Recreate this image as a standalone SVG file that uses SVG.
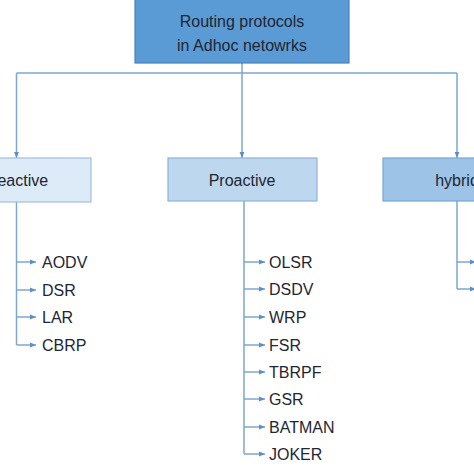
<svg xmlns="http://www.w3.org/2000/svg" width="474" height="474" viewBox="0 0 474 474">
<defs>
<marker id="ah" viewBox="0 0 10 10" refX="10" refY="5" markerWidth="5" markerHeight="5" markerUnits="userSpaceOnUse" orient="auto">
<path d="M0,0 L10,5 L0,10 Z" fill="#5b8fc7"/>
</marker>
<marker id="ahs" viewBox="0 0 10 10" refX="10" refY="5" markerWidth="6" markerHeight="6" markerUnits="userSpaceOnUse" orient="auto">
<path d="M0,1 L10,5 L0,9 Z" fill="#5b8fc7"/>
</marker>
</defs>
<style>
.t{font-family:"Liberation Sans",Arial,sans-serif;font-size:16px;fill:#1e2633}
.c{text-anchor:middle}
.ln{fill:none;stroke:#7ea6d0;stroke-width:1.5}
.ar{marker-end:url(#ahs)}
</style>
<rect width="474" height="474" fill="#ffffff"/>
<g id="connectors">
<path class="ln" d="M16.5,73 H457"/>
<path class="ln ar" d="M242,63 V158"/>
<path class="ln ar" d="M16.5,73 V158"/>
<path class="ln ar" d="M457,73 V158"/>
<path class="ln" d="M16.5,202 V345"/>
<path class="ln ar" d="M16.5,262 H36"/>
<path class="ln ar" d="M16.5,290 H36"/>
<path class="ln ar" d="M16.5,317 H36"/>
<path class="ln ar" d="M16.5,345 H36"/>
<path class="ln" d="M244,201 V454"/>
<path class="ln ar" d="M244,262 H265"/>
<path class="ln ar" d="M244,289 H265"/>
<path class="ln ar" d="M244,317 H265"/>
<path class="ln ar" d="M244,345 H265"/>
<path class="ln ar" d="M244,372 H265"/>
<path class="ln ar" d="M244,399 H265"/>
<path class="ln ar" d="M244,427 H265"/>
<path class="ln ar" d="M244,454 H265"/>
<path class="ln" d="M457,201 V289"/>
<path class="ln ar" d="M457,262 H476"/>
<path class="ln ar" d="M457,289 H476"/>
</g>
<g id="root">
<rect x="135" y="-2" width="214" height="65" fill="#5b9bd5" stroke="#4a80b8" stroke-width="1.2"/>
<text class="t c" x="242" y="27">Routing protocols</text>
<text class="t c" x="242" y="51">in Adhoc netowrks</text>
</g>
<g id="reactive">
<rect x="-58" y="158" width="149" height="44" fill="#ddeaf7" stroke="#a3bfdc" stroke-width="1.2"/>
<text class="t c" x="17" y="186">Reactive</text>
</g>
<g id="proactive">
<rect x="168" y="158" width="149" height="43" fill="#bdd7ee" stroke="#8fb3d8" stroke-width="1.2"/>
<text class="t c" x="242" y="186">Proactive</text>
</g>
<g id="hybrid">
<rect x="383" y="158" width="149" height="43" fill="#9dc3e6" stroke="#7ba5d2" stroke-width="1.2"/>
<text class="t c" x="457" y="186">hybrid</text>
</g>
<g id="reactive-items">
<text class="t" x="42" y="268">AODV</text>
<text class="t" x="42" y="296">DSR</text>
<text class="t" x="42" y="323">LAR</text>
<text class="t" x="42" y="351">CBRP</text>
</g>
<g id="proactive-items">
<text class="t" x="269" y="268">OLSR</text>
<text class="t" x="269" y="295">DSDV</text>
<text class="t" x="269" y="323">WRP</text>
<text class="t" x="269" y="351">FSR</text>
<text class="t" x="269" y="378">TBRPF</text>
<text class="t" x="269" y="405">GSR</text>
<text class="t" x="269" y="433">BATMAN</text>
<text class="t" x="269" y="460">JOKER</text>
</g>
</svg>
